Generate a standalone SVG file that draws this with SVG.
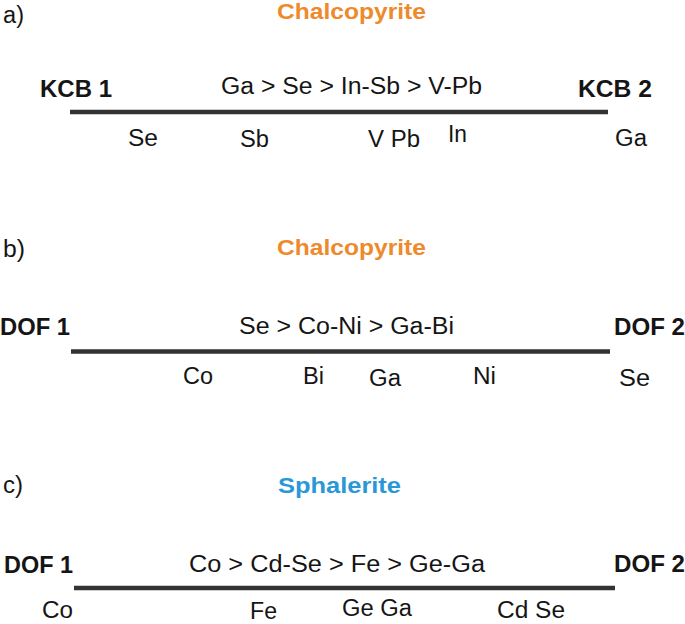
<svg xmlns="http://www.w3.org/2000/svg" width="685" height="624" viewBox="0 0 685 624">
<style>
text{font-family:"Liberation Sans",Arial,sans-serif;fill:#151515;font-size:23.5px}
.b{font-weight:bold;font-size:23px}
.t{font-weight:bold;font-size:22.5px}
.or{fill:#EE8A2C}
.bl{fill:#2A98D6}
.ax{stroke:#333;stroke-width:4.5;fill:none}
</style>
<rect width="685" height="624" fill="#fff"/>
<g id="connectors">
<line class="ax" x1="70" y1="112" x2="608" y2="112"/>
<line class="ax" x1="71" y1="351.5" x2="610" y2="351.5"/>
<line class="ax" x1="74" y1="588" x2="615" y2="588"/>
</g>
<g id="panel-a">
<text x="3" y="23" textLength="21" lengthAdjust="spacingAndGlyphs">a)</text>
<text class="t or" x="277" y="19" textLength="149" lengthAdjust="spacingAndGlyphs">Chalcopyrite</text>
<text class="b" x="40" y="97" textLength="72" lengthAdjust="spacingAndGlyphs">KCB 1</text>
<text x="221" y="94" textLength="261" lengthAdjust="spacingAndGlyphs">Ga &gt; Se &gt; In-Sb &gt; V-Pb</text>
<text class="b" x="578" y="97" textLength="74" lengthAdjust="spacingAndGlyphs">KCB 2</text>
<text x="128" y="146" textLength="30" lengthAdjust="spacingAndGlyphs">Se</text>
<text x="240" y="147" textLength="29" lengthAdjust="spacingAndGlyphs">Sb</text>
<text x="368" y="147" textLength="52" lengthAdjust="spacingAndGlyphs">V Pb</text>
<text x="448" y="142" textLength="19" lengthAdjust="spacingAndGlyphs">In</text>
<text x="615" y="146" textLength="32" lengthAdjust="spacingAndGlyphs">Ga</text>
</g>
<g id="panel-b">
<text x="3" y="257" textLength="22" lengthAdjust="spacingAndGlyphs">b)</text>
<text class="t or" x="277" y="255" textLength="149" lengthAdjust="spacingAndGlyphs">Chalcopyrite</text>
<text class="b" x="0" y="335" textLength="70" lengthAdjust="spacingAndGlyphs">DOF 1</text>
<text x="239" y="334" textLength="215" lengthAdjust="spacingAndGlyphs">Se &gt; Co-Ni &gt; Ga-Bi</text>
<text class="b" x="614" y="335" textLength="71" lengthAdjust="spacingAndGlyphs">DOF 2</text>
<text x="183" y="384" textLength="30" lengthAdjust="spacingAndGlyphs">Co</text>
<text x="303" y="384" textLength="21" lengthAdjust="spacingAndGlyphs">Bi</text>
<text x="369" y="386" textLength="32" lengthAdjust="spacingAndGlyphs">Ga</text>
<text x="473" y="384" textLength="23" lengthAdjust="spacingAndGlyphs">Ni</text>
<text x="619" y="386" textLength="31" lengthAdjust="spacingAndGlyphs">Se</text>
</g>
<g id="panel-c">
<text x="3" y="493" textLength="20" lengthAdjust="spacingAndGlyphs">c)</text>
<text class="t bl" x="278" y="493" textLength="123" lengthAdjust="spacingAndGlyphs">Sphalerite</text>
<text class="b" x="4" y="573" textLength="69" lengthAdjust="spacingAndGlyphs">DOF 1</text>
<text x="189" y="572" textLength="296" lengthAdjust="spacingAndGlyphs">Co &gt; Cd-Se &gt; Fe &gt; Ge-Ga</text>
<text class="b" x="614" y="572" textLength="71" lengthAdjust="spacingAndGlyphs">DOF 2</text>
<text x="42" y="618" textLength="31" lengthAdjust="spacingAndGlyphs">Co</text>
<text x="250" y="619" textLength="27" lengthAdjust="spacingAndGlyphs">Fe</text>
<text x="342" y="616" textLength="70" lengthAdjust="spacingAndGlyphs">Ge Ga</text>
<text x="497" y="618" textLength="68" lengthAdjust="spacingAndGlyphs">Cd Se</text>
</g>
</svg>
